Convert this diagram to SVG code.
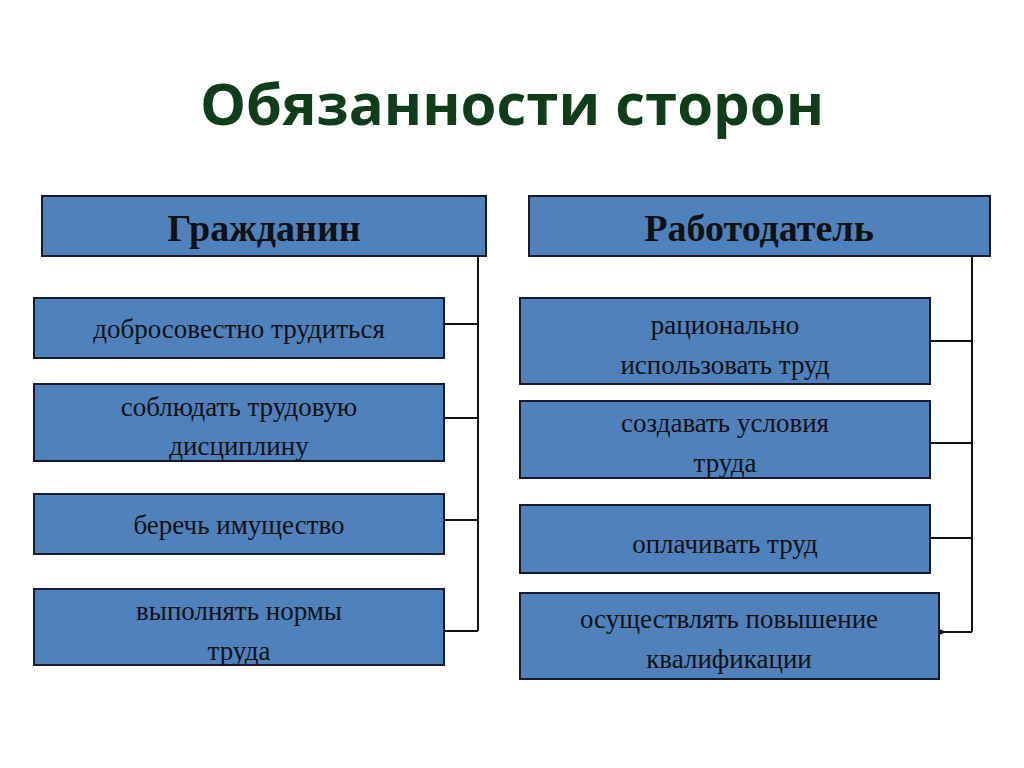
<svg xmlns="http://www.w3.org/2000/svg" width="1024" height="768" viewBox="0 0 1024 768">
<style>
.b{fill:#4f81bd;stroke:#1a1a2e;stroke-width:2}
.t{font-family:"Liberation Serif",serif;font-size:27px;fill:#111;text-anchor:middle}
.h{font-family:"Liberation Serif",serif;font-size:38px;font-weight:bold;fill:#111;text-anchor:middle}
.c{stroke:#111;stroke-width:2;fill:none}
</style>
<defs><marker id="a" markerWidth="8" markerHeight="8" refX="7" refY="4" orient="auto" markerUnits="userSpaceOnUse"><path d="M8,1 L0,4 L8,7z" fill="#111"/></marker></defs>
<rect width="1024" height="768" fill="#fff"/>
<text x="512" y="125" font-family="Open Sans,sans-serif" font-weight="bold" font-size="58" fill="#0f3d1a" text-anchor="middle">Обязанности сторон</text>
<g id="connectors">
<path class="c" d="M478,256 V631 M972,257 V632"/>
<path class="c" marker-end="url(#a)" d="M478,324 H445 M478,418 H445 M478,520 H445 M478,631 H445 M972,341 H931 M972,443 H931 M972,538 H931 M972,632 H940"/>
</g>
<g id="n1"><rect class="b" x="42" y="196" width="444" height="60"/><text class="h" x="264" y="241">Гражданин</text></g>
<g id="n2"><rect class="b" x="529" y="196" width="461" height="60"/><text class="h" x="759" y="241">Работодатель</text></g>
<g id="n3"><rect class="b" x="34" y="298" width="410" height="60"/><text class="t" x="239" y="338">добросовестно трудиться</text></g>
<g id="n4"><rect class="b" x="34" y="384" width="410" height="77"/><text class="t" x="239" y="416">соблюдать трудовую</text><text class="t" x="239" y="455">дисциплину</text></g>
<g id="n5"><rect class="b" x="34" y="494" width="410" height="60"/><text class="t" x="239" y="534">беречь имущество</text></g>
<g id="n6"><rect class="b" x="34" y="589" width="410" height="76"/><text class="t" x="239" y="620">выполнять нормы</text><text class="t" x="239" y="660">труда</text></g>
<g id="n7"><rect class="b" x="520" y="298" width="410" height="86"/><text class="t" x="725" y="334">рационально</text><text class="t" x="725" y="374">использовать труд</text></g>
<g id="n8"><rect class="b" x="520" y="401" width="410" height="77"/><text class="t" x="725" y="432">создавать условия</text><text class="t" x="725" y="472">труда</text></g>
<g id="n9"><rect class="b" x="520" y="505" width="410" height="68"/><text class="t" x="725" y="553">оплачивать труд</text></g>
<g id="n10"><rect class="b" x="520" y="593" width="419" height="86"/><text class="t" x="729" y="628">осуществлять повышение</text><text class="t" x="729" y="668">квалификации</text></g>
</svg>
